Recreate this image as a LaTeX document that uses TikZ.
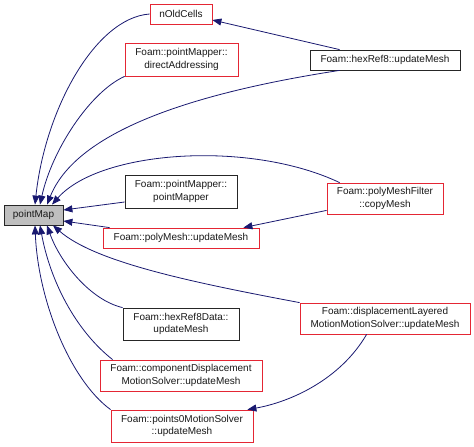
\documentclass[tikz,border=0pt]{standalone}
\usepackage{fontspec}
\setmainfont{Liberation Sans}
\usetikzlibrary{arrows.meta,calc}
\definecolor{edgeblue}{RGB}{25,25,112}
\definecolor{boxred}{RGB}{228,38,52}
\definecolor{boxgray}{RGB}{191,191,191}
\tikzset{
  box/.style={draw=black!85, line width=0.8pt, fill=white, inner sep=0pt, align=center,
    font=\fontsize{10}{12.5}\selectfont, text=black!90},
  redbox/.style={box, draw=boxred},
  graybox/.style={box, fill=boxgray},
  edge/.style={draw=edgeblue, line width=0.8pt, -{Triangle[length=9pt,width=7pt]}},
}
\begin{document}
\begin{tikzpicture}[x=1pt,y=-1pt]
\useasboundingbox (0,0) rectangle (474,447);
% nodes
\node[graybox, minimum width=59pt, minimum height=20pt] (pm) at (33.5,215) {pointMap};
\node[redbox, minimum width=62pt, minimum height=20pt] (noc) at (181,14) {nOldCells};
\node[redbox, minimum width=113pt, minimum height=33pt] (da) at (181.5,59.5) {Foam::pointMapper::\\directAddressing};
\node[box, minimum width=150pt, minimum height=20pt] (hr) at (385,60) {Foam::hexRef8::updateMesh};
\node[box, minimum width=112pt, minimum height=33pt] (pmp) at (181,191.5) {Foam::pointMapper::\\pointMapper};
\node[redbox, minimum width=156pt, minimum height=20pt] (pum) at (181,238) {Foam::polyMesh::updateMesh};
\node[redbox, minimum width=116pt, minimum height=31pt] (cm) at (385,198.5) {Foam::polyMeshFilter\\::copyMesh};
\node[box, minimum width=116pt, minimum height=32pt] (hrd) at (181,324) {Foam::hexRef8Data::\\updateMesh};
\node[redbox, minimum width=170pt, minimum height=31pt] (dl) at (385,318.5) {Foam::displacementLayered\\MotionMotionSolver::updateMesh};
\node[redbox, minimum width=162pt, minimum height=31pt] (cd) at (181,375.5) {Foam::componentDisplacement\\MotionSolver::updateMesh};
\node[redbox, minimum width=142pt, minimum height=32pt] (p0) at (182,426) {Foam::points0MotionSolver\\::updateMesh};
% edges
\draw[edge] (noc.west) .. controls (95,18) and (45,110) .. ([xshift=1.5pt]pm.north);
\draw[edge] (da.south west) .. controls (90,92) and (52,150) .. ([xshift=6.5pt]pm.north);
\draw[edge] ([xshift=30pt]hr.south west) .. controls (180,95) and (75,135) .. ([xshift=13.5pt]pm.north);
\draw[edge] ([xshift=30pt]hr.north west) -- ([yshift=-6pt]noc.east);
\draw[edge] ([xshift=13pt]cm.north west) .. controls (250,140) and (100,150) .. ([xshift=18.5pt]pm.north);
\draw[edge] ([yshift=4pt]cm.south west) -- ([xshift=-16pt]pum.north east);
\draw[edge] ([yshift=-10.5pt]pmp.west) -- ([yshift=5pt]pm.east);
\draw[edge] ([xshift=7pt]pum.north west) -- ([yshift=-6pt]pm.east);
\draw[edge] (dl.north west) .. controls (190,282) and (95,262) .. ([xshift=19.5pt]pm.south);
\draw[edge] ([xshift=67pt]dl.south west) .. controls (340,380) and (290,402) .. ([xshift=-6pt]p0.north east);
\draw[edge] (hrd.north west) .. controls (90,300) and (60,262) .. ([xshift=13.5pt]pm.south);
\draw[edge] ([xshift=13pt]cd.north west) .. controls (75,330) and (50,280) .. ([xshift=6.5pt]pm.south);
\draw[edge] (p0.north west) .. controls (70,380) and (38,300) .. ([xshift=1.5pt]pm.south);
\end{tikzpicture}
\end{document}
